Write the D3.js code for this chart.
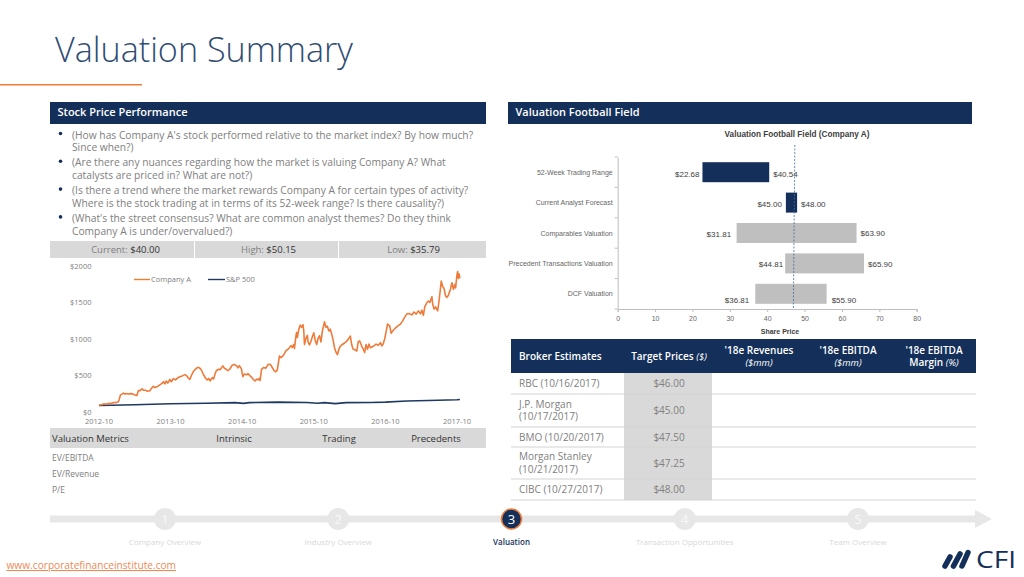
<!DOCTYPE html>
<html><head><meta charset="utf-8">
<script src="https://cdnjs.cloudflare.com/ajax/libs/d3/7.8.5/d3.min.js"></script>
<style>html,body{margin:0;padding:0;background:#fff;overflow:hidden}svg{display:block}text{font-family:"Open Sans",sans-serif}</style>
</head><body><svg id="c" width="1024" height="577"></svg>
<script>
// ---- data ----
const bullets = [
 ["(How has Company A's stock performed relative to the market index? By how much?","Since when?)"],
 ["(Are there any nuances regarding how the market is valuing Company A? What","catalysts are priced in? What are not?)"],
 ["(Is there a trend where the market rewards Company A for certain types of activity?","Where is the stock trading at in terms of its 52-week range? Is there causality?)"],
 ["(What's the street consensus? What are common analyst themes? Do they think","Company A is under/overvalued?)"]
];
const statLabels = ["Current:","High:","Low:"];
const statValues = ["$40.00","$50.15","$35.79"];
const yearTicks = ["2012-10","2013-10","2014-10","2015-10","2016-10","2017-10"];
const priceTicks = [0,500,1000,1500,2000];
const companyPoints = [[0,95],[.04,100],[.07,112],[.1,105],[.13,118],[.16,115],[.2,128],[.25,132],[.27,140],[.28,165],[.3,235],[.32,245],[.34,258],[.36,245],[.38,252],[.41,246],[.44,252],[.47,248],[.5,232],[.53,225],[.54,262],[.55,295],[.57,290],[.6,318],[.62,300],[.65,298],[.68,285],[.71,292],[.73,320],[.76,352],[.78,335],[.81,345],[.85,372],[.88,392],[.9,415],[.92,385],[.94,425],[.96,395],[.99,445],[1.01,415],[1.04,458],[1.07,440],[1.1,468],[1.13,482],[1.17,498],[1.2,512],[1.23,490],[1.25,462],[1.27,448],[1.29,500],[1.32,558],[1.36,598],[1.39,612],[1.41,600],[1.43,575],[1.46,510],[1.49,462],[1.51,438],[1.53,460],[1.55,425],[1.58,470],[1.6,452],[1.62,520],[1.64,568],[1.67,585],[1.69,578],[1.73,632],[1.75,600],[1.77,590],[1.8,565],[1.83,590],[1.86,640],[1.89,650],[1.92,635],[1.94,605],[1.96,635],[1.99,590],[2,530],[2.01,485],[2.03,520],[2.06,510],[2.08,525],[2.11,495],[2.14,465],[2.16,440],[2.18,425],[2.2,450],[2.22,440],[2.24,462],[2.25,430],[2.27,585],[2.3,610],[2.33,600],[2.36,650],[2.39,655],[2.42,610],[2.44,575],[2.47,550],[2.49,575],[2.5,640],[2.52,765],[2.54,745],[2.57,770],[2.59,800],[2.61,840],[2.64,860],[2.66,880],[2.68,910],[2.7,885],[2.72,925],[2.73,870],[2.75,1040],[2.76,1090],[2.77,1020],[2.79,1130],[2.81,1190],[2.83,1160],[2.85,1195],[2.86,1110],[2.87,925],[2.89,1010],[2.91,1050],[2.92,960],[2.94,920],[2.96,965],[2.98,1030],[3,1085],[3.02,980],[3.04,925],[3.06,1010],[3.08,1045],[3.1,960],[3.12,1110],[3.14,1195],[3.15,1235],[3.17,1160],[3.19,1175],[3.21,1110],[3.23,1135],[3.25,1065],[3.27,985],[3.29,880],[3.31,820],[3.33,785],[3.35,860],[3.37,900],[3.4,925],[3.43,945],[3.46,970],[3.49,1010],[3.51,1040],[3.53,920],[3.55,860],[3.58,850],[3.6,835],[3.62,960],[3.64,975],[3.67,900],[3.69,860],[3.71,815],[3.73,925],[3.75,860],[3.77,930],[3.79,880],[3.83,900],[3.87,930],[3.9,915],[3.93,950],[3.95,905],[3.97,935],[3.99,1000],[4.01,1100],[4.03,1205],[4.06,1180],[4.08,1080],[4.11,1120],[4.14,1150],[4.17,1175],[4.21,1205],[4.24,1245],[4.27,1300],[4.3,1345],[4.33,1350],[4.37,1330],[4.4,1370],[4.43,1340],[4.46,1385],[4.49,1345],[4.51,1395],[4.53,1325],[4.55,1440],[4.58,1500],[4.6,1520],[4.62,1500],[4.65,1580],[4.66,1480],[4.68,1410],[4.7,1440],[4.73,1385],[4.75,1530],[4.77,1700],[4.78,1795],[4.8,1720],[4.82,1690],[4.84,1590],[4.86,1570],[4.88,1600],[4.91,1690],[4.93,1770],[4.95,1680],[4.97,1745],[4.98,1700],[5,1880],[5.01,1925],[5.02,1830],[5.03,1890],[5.04,1830]];
const spYears = [0,.5,1,1.5,1.9,2.02,2.1,2.5,2.9,3.05,3.15,3.3,3.45,3.8,4,4.3,4.6,5,5.04];
const spValues = [90,100,112,120,128,118,128,135,130,120,128,115,128,130,135,150,158,168,172];
const metricHeaders = ["Valuation Metrics","Intrinsic","Trading","Precedents"];
const metricRows = ["EV/EBITDA","EV/Revenue","P/E"];
const ffCategories = ["52-Week Trading Range","Current Analyst Forecast","Comparables Valuation","Precedent Transactions Valuation","DCF Valuation"];
const ffLow = [22.68,45,31.81,44.81,36.81];
const ffHigh = [40.54,48,63.9,65.9,55.9];
const ffColors = ["#14305a","#14305a","#bfbfbf","#bfbfbf","#bfbfbf"];
const ffTicks = [0,10,20,30,40,50,60,70,80];
const ffRefTop = 47.4, ffRefBottom = 47.0;
const brokers = [["RBC (10/16/2017)"],["J.P. Morgan","(10/17/2017)"],["BMO (10/20/2017)"],["Morgan Stanley","(10/21/2017)"],["CIBC (10/27/2017)"]];
const targets = [46,45,47.5,47.25,48];
const steps = ["Company Overview","Industry Overview","Valuation","Transaction Opportunities","Team Overview"];

// ---- page ----
const navy="#14305a", txt="#808080", svg=d3.select("#c");
const T=(x,y,s,o={})=>svg.append("text").attr("x",x).attr("y",y).text(s)
  .attr("font-size",o.size||10).attr("fill",o.fill||txt).attr("text-anchor",o.anchor||"start")
  .attr("font-weight",o.weight||400).attr("font-style",o.style||null)
  .style("font-family",o.family||null).attr("textLength",o.len||null).attr("lengthAdjust",o.len?"spacingAndGlyphs":null);
T(55,62.3,"Valuation Summary",{size:34,fill:"#2f4d73",len:298}).attr("font-weight",300);
svg.append("rect").attr("x",0).attr("y",84).attr("width",142).attr("height",1.5).attr("fill","#ee7d3b");
[[50,436,"Stock Price Performance"],[508,464,"Valuation Football Field"]].forEach(([x,w,s])=>{
  svg.append("rect").attr("x",x).attr("y",102).attr("width",w).attr("height",22).attr("fill",navy);
  T(x+7.5,116,s,{size:11,fill:"#fff",weight:600,len:x<100?130:124});
});
bullets.forEach((b,i)=>{
  const y=138.5+i*27.8;
  svg.append("circle").attr("cx",60.5).attr("cy",y-5).attr("r",1.8).attr("fill",navy);
  b.forEach((l,j)=>T(72,y+j*12.7,l,{size:10.25}));
});
// stats bar
svg.append("rect").attr("x",50).attr("y",241).attr("width",436).attr("height",17).attr("fill","#d9d9d9");
[194,338].forEach(x=>svg.append("rect").attr("x",x).attr("y",241).attr("width",1).attr("height",17).attr("fill","#fff"));
[125.5,268.5,413.5].forEach((x,i)=>{
  const t=T(x,253,"",{size:9.5,anchor:"middle"});
  t.append("tspan").text(statLabels[i]+" ");
  t.append("tspan").text(statValues[i]).attr("fill","#333").attr("font-weight",500);
});

// ---- line chart ----
const lx=d3.scaleLinear().domain([0,5]).range([99,457]);
const ly=d3.scaleLinear().domain([0,2000]).range([412,266]);
const lg=svg.append("g");
priceTicks.forEach(v=>T(91.5,ly(v)+2.8,"$"+v,{size:7.5,anchor:"end",fill:"#808080"}));
yearTicks.forEach((s,i)=>T(lx(i),424,s,{size:7.5,anchor:"middle",fill:"#808080"}));
const line=d3.line();
lg.append("path").attr("d",line(spYears.map((t,i)=>[lx(t),ly(spValues[i])]))).attr("fill","none").attr("stroke","#1f3864").attr("stroke-width",1.6);
lg.append("path").attr("d",line(companyPoints.map(([t,v])=>[lx(t),ly(v)]))).attr("fill","none").attr("stroke","#ee7b3a").attr("stroke-width",1.6).attr("stroke-linejoin","round");
[[134,150,"#ed7d31","Company A",151],[208,225,"#1f3864","S&P 500",226]].forEach(([a,b,c,s,x])=>{
  svg.append("line").attr("x1",a).attr("x2",b).attr("y1",279.5).attr("y2",279.5).attr("stroke",c).attr("stroke-width",1.4);
  T(x,282,s,{size:7.5,fill:"#808080"});
});
// metrics
svg.append("rect").attr("x",50).attr("y",428).attr("width",436).attr("height",20).attr("fill","#d9d9d9");
[[52,"start"],[234,"middle"],[339,"middle"],[436,"middle"]].forEach(([x,a],i)=>T(x,442,metricHeaders[i],{size:9.5,anchor:a,fill:"#333",weight:500}));
metricRows.forEach((s,i)=>T(52,461+i*16,s,{size:8.5}));

// ---- football field ----
const fx=d3.scaleLinear().domain([0,80]).range([617.7,916.7]);
const fy=d3.scaleBand().domain(ffCategories).range([157,309]);
const arial="'Liberation Sans',Arial,sans-serif";
T(797,136.5,"Valuation Football Field (Company A)",{size:8.2,anchor:"middle",fill:"#404040",weight:700,family:arial});
const ffa=svg.append("g");
ffa.selectAll("rect.b").data(ffCategories).join("rect").attr("x",(d,i)=>fx(ffLow[i])).attr("width",(d,i)=>fx(ffHigh[i])-fx(ffLow[i]))
  .attr("y",d=>fy(d)+fy.bandwidth()/2-10).attr("height",20).attr("fill",(d,i)=>ffColors[i]);
const ax=d3.axisBottom(fx).tickValues(ffTicks).tickSize(3).tickFormat(d3.format("d"));
const ay=d3.axisLeft(fy).tickSize(0).tickFormat("");
const gx=svg.append("g").attr("transform","translate(0,309)").call(ax);
const gy=svg.append("g").attr("transform","translate(617.7,0)").call(ay);
gx.selectAll("path,line").attr("stroke","#bdbdbd");gy.selectAll("path").attr("stroke","#bdbdbd");
gx.selectAll("text").attr("font-size",7).attr("fill","#666").style("font-family",arial).attr("dy",".9em");
[0,1,2,3,4,5].forEach(i=>svg.append("line").attr("x1",614.7).attr("x2",617.7).attr("y1",157+i*30.4).attr("y2",157+i*30.4).attr("stroke","#bdbdbd"));
ffCategories.forEach((c,i)=>T(612.7,fy(c)+fy.bandwidth()/2+2.5,c,{size:7,anchor:"end",fill:"#666",family:arial}));
const lowOff=[2,1.5,1.3,1,6], highOff=[2,1.5,-.3,1,6];
const usd=d3.format("$.2f");
ffCategories.forEach((c,i)=>{
  const m=fy(c)+fy.bandwidth()/2+2.8;
  T(fx(ffLow[i])-(i==2?5.5:i==4?6:i==3?2:i==1?4:3),m+lowOff[i],usd(ffLow[i]),{size:8,anchor:"end",fill:"#404040",family:arial});
  T(fx(ffHigh[i])+(i==4?5:4),m+highOff[i],usd(ffHigh[i]),{size:8,fill:"#404040",family:arial});
});
svg.append("line").attr("x1",fx(ffRefTop)).attr("x2",fx(ffRefBottom)).attr("y1",145).attr("y2",309).attr("stroke","#3f6f9f").attr("stroke-width",.8).attr("stroke-dasharray","2,1.5");
T(780,334,"Share Price",{size:7,anchor:"middle",fill:"#404040",weight:700,family:arial});

// ---- table ----
svg.append("rect").attr("x",511).attr("y",339).attr("width",465).attr("height",34).attr("fill",navy);
const hd=(x,y,parts,a="middle")=>{const t=T(x,y,"",{size:10,fill:"#fff",anchor:a});parts.forEach(([s,it])=>t.append("tspan").text(s).attr("font-weight",it?400:600).attr("font-style",it?"italic":null).attr("font-size",it?9.5:10));};
hd(519,360,[["Broker Estimates"]],"start");
hd(669,360,[["Target Prices "],["($)",1]]);
hd(759,354,[["'18e Revenues"]]);hd(759,366,[["($mm)",1]]);
hd(848,354,[["'18e EBITDA"]]);hd(848,366,[["($mm)",1]]);
hd(934,354,[["'18e EBITDA"]]);hd(934,366,[["Margin "],["(%)",1]]);
const rowEdges=[373,394,427,447,479,500];
svg.append("rect").attr("x",624).attr("y",373).attr("width",88).attr("height",127).attr("fill","#d9d9d9");
rowEdges.slice(1).forEach(y=>svg.append("rect").attr("x",511).attr("y",y-.5).attr("width",465).attr("height",1).attr("fill","#d4d4d4"));
brokers.forEach((b,i)=>{
  const m=(rowEdges[i]+rowEdges[i+1])/2;
  b.forEach((s,j)=>T(519,m+3.5+(j-(b.length-1)/2)*12.5,s,{size:10}));
  T(669,m+3.8,usd(targets[i]),{size:10,anchor:"middle"});
});

// ---- progress ----
svg.append("rect").attr("x",50).attr("y",515.5).attr("width",925).attr("height",7).attr("fill","#e7e7e7");
svg.append("path").attr("d",d3.line()([[975,510],[992,519],[975,528]])+"Z").attr("fill","#e7e7e7");
const sx=d3.scalePoint().domain(steps).range([165,858]);
steps.forEach((s,i)=>{
  const on=i==2;
  svg.append("circle").attr("cx",sx(s)).attr("cy",519).attr("r",on?10:11).attr("fill",on?navy:"#e7e7e7").attr("stroke",on?"#ee7d3b":"none").attr("stroke-width",1.5);
  T(sx(s),524,i+1,{size:13,anchor:"middle",fill:on?"#fff":"#f7f7f7"});
  T(sx(s),545,s,{size:8,anchor:"middle",fill:on?"#14305a":"#d8d8d8",weight:on?600:400});
});
T(6.5,569,"www.corporatefinanceinstitute.com",{size:10.5,fill:"#ee8a55",len:169.5}).attr("text-decoration","underline");
[[945,566,950,557],[953.5,566,960,554],[962,566,968,552.5]].forEach(([a,b,c,d])=>svg.append("line").attr("x1",a).attr("y1",b).attr("x2",c).attr("y2",d).attr("stroke",navy).attr("stroke-width",5.5).attr("stroke-linecap","round"));
T(976,568,"CFI",{size:24.5,fill:navy,len:40});
</script></body></html>
